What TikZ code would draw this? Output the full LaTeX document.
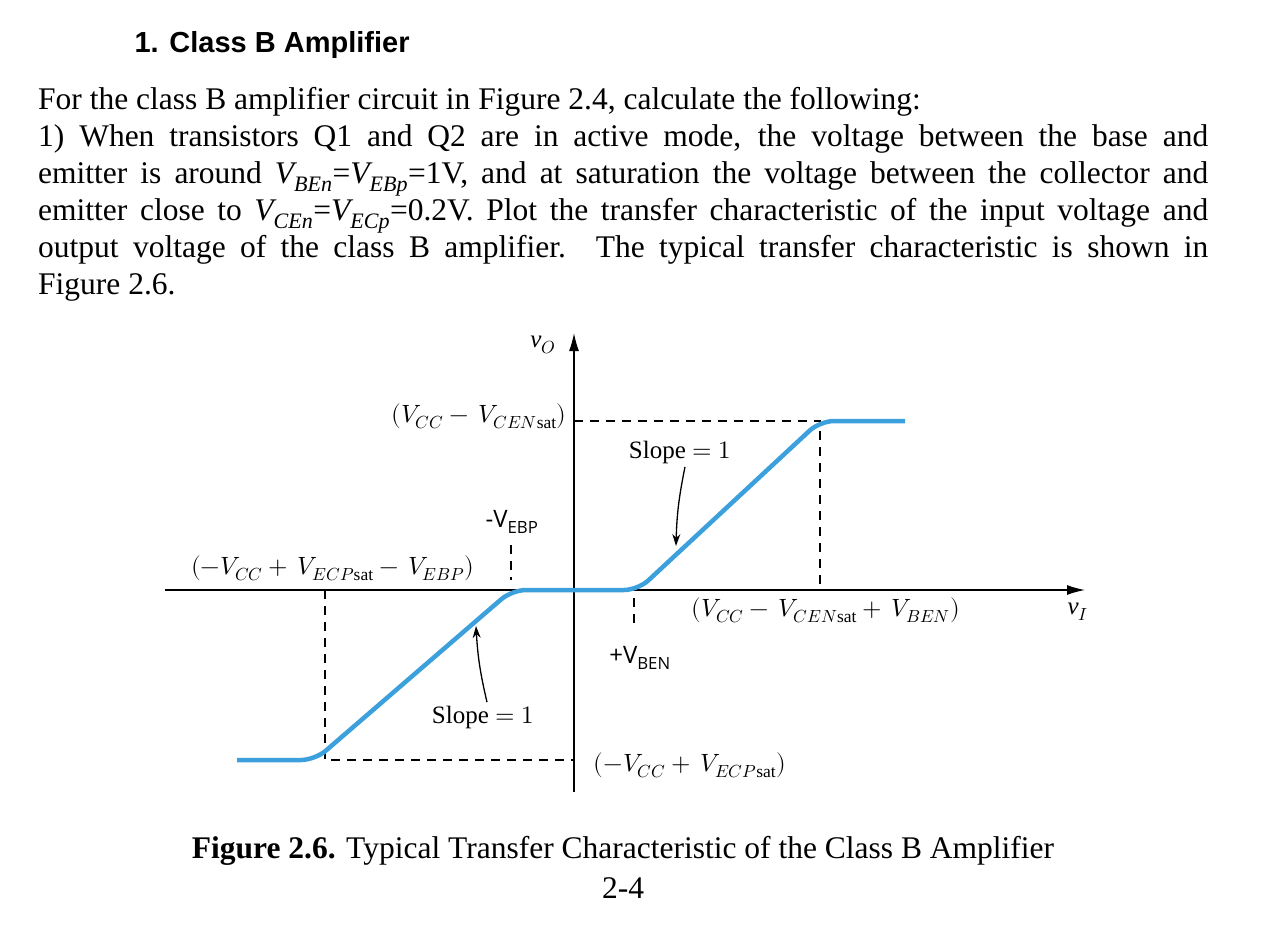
\documentclass[tikz,border=0pt]{standalone}
\usepackage{fontspec}
\setmainfont{Liberation Serif}
\setsansfont{Liberation Sans}
\newfontfamily\lab{Open Sans}
\usepackage{unicode-math}
\setmathfont{Latin Modern Math}
\usetikzlibrary{arrows.meta}
\definecolor{curve}{RGB}{60,160,220}
\tikzset{lbl/.style={font=\fontsize{25}{29}\selectfont},
 dsh/.style={dash pattern=on 9pt off 7pt,line width=1.2pt},
 ax/.style={line width=1.4pt}}
\begin{document}
\begin{tikzpicture}[x=1pt,y=-1pt]
\useasboundingbox (0,0) rectangle (1282,952);
\node[anchor=west,font=\sffamily\bfseries\fontsize{29}{34}\selectfont] (title) at (131,45) {1. Class B Amplifier};
\node[anchor=north west,inner sep=0,font=\fontsize{31.5}{37}\selectfont] (para) at (38,87) {\parbox{1170pt}{For the class B amplifier circuit in Figure 2.4, calculate the following:\\
1) When transistors Q1 and Q2 are in active mode, the voltage between the base and\linebreak emitter is around \textit{V\textsubscript{BEn}}=\textit{V\textsubscript{EBp}}=1V, and at saturation the voltage between the collector and\linebreak emitter close to \textit{V\textsubscript{CEn}}=\textit{V\textsubscript{ECp}}=0.2V. Plot the transfer characteristic of the input voltage and\linebreak output voltage of the class B amplifier. The typical transfer characteristic is shown in\linebreak Figure 2.6.}};
% axes
\coordinate (o) at (574,590);
\coordinate (yb) at (574,792);
\coordinate (yt) at (574,333);
\coordinate (xl) at (165,590);
\coordinate (xr) at (1085,590);
\draw[ax,-{Latex[length=18pt,width=10pt]}] (yb) -- (yt);
\draw[ax,-{Latex[length=18pt,width=10pt]}] (xl) -- (xr);
% dashed
\coordinate (a) at (820,421); \coordinate (ao) at (574,421); \coordinate (ax) at (820,590);
\coordinate (b) at (325,760); \coordinate (bo) at (574,760); \coordinate (bx) at (325,590);
\draw[dsh] (ao) -- (a) -- (ax);
\draw[dsh] (bx) -- (b) -- (bo);
\coordinate (t1) at (511,545); \coordinate (t1b) at (511,580);
\coordinate (t2) at (634,598); \coordinate (t2b) at (634,630);
\draw[dsh] (t1) -- (t1b);
\draw[dsh] (t2) -- (t2b);
% curve
\coordinate (c0) at (237,760); \coordinate (c1) at (315,760); \coordinate (c2) at (512,590);
\coordinate (c3) at (638,590); \coordinate (c4) at (820,421); \coordinate (c5) at (905,421);
\draw[curve,line width=4.5pt,rounded corners=14pt] (c0) -- (c1) -- (c2) -- (c3) -- (c4) -- (c5);
% labels
\node[lbl] (vo) at (543,345) {$\mathit{v}_O$};
\node[lbl,anchor=east] (l1) at (570,416) {$(V_{CC}-\,V_{CEN\mathrm{sat}})$};
\node[lbl] (s1) at (680,452) {Slope $=1$};
\node[lbl,font=\lab\fontsize{24}{28}\selectfont] (vebp) at (512,522) {-V\textsubscript{EBP}};
\node[lbl,anchor=east] (l2) at (478,568) {$(-V_{CC}+\,V_{ECP\mathrm{sat}}-\,V_{EBP})$};
\node[lbl] (l3) at (826,610) {$(V_{CC}-\,V_{CEN\mathrm{sat}}+\,V_{BEN})$};
\node[lbl] (vi) at (1078,612) {$\mathit{v}_I$};
\node[lbl,font=\lab\fontsize{24}{28}\selectfont] (vben) at (640,658) {+V\textsubscript{BEN}};
\node[lbl] (s2) at (483,717) {Slope $=1$};
\node[lbl] (l4) at (690,765) {$(-V_{CC}+\,V_{ECP\mathrm{sat}})$};
\draw[line width=1.3pt,-{Stealth[length=12pt,width=8pt]}] (s1.south) ++(5,0) to[bend right=5] (676,546);
\draw[line width=1.3pt,-{Stealth[length=12pt,width=8pt]}] (s2.north) ++(4,0) to[bend left=5] (476,626);
\node[font=\fontsize{31.5}{36}\selectfont] (cap) at (623,851) {\textbf{Figure 2.6.} Typical Transfer Characteristic of the Class B Amplifier};
\node[font=\fontsize{31.5}{36}\selectfont] (pg) at (623,888) {2-4};
\end{tikzpicture}
\end{document}
